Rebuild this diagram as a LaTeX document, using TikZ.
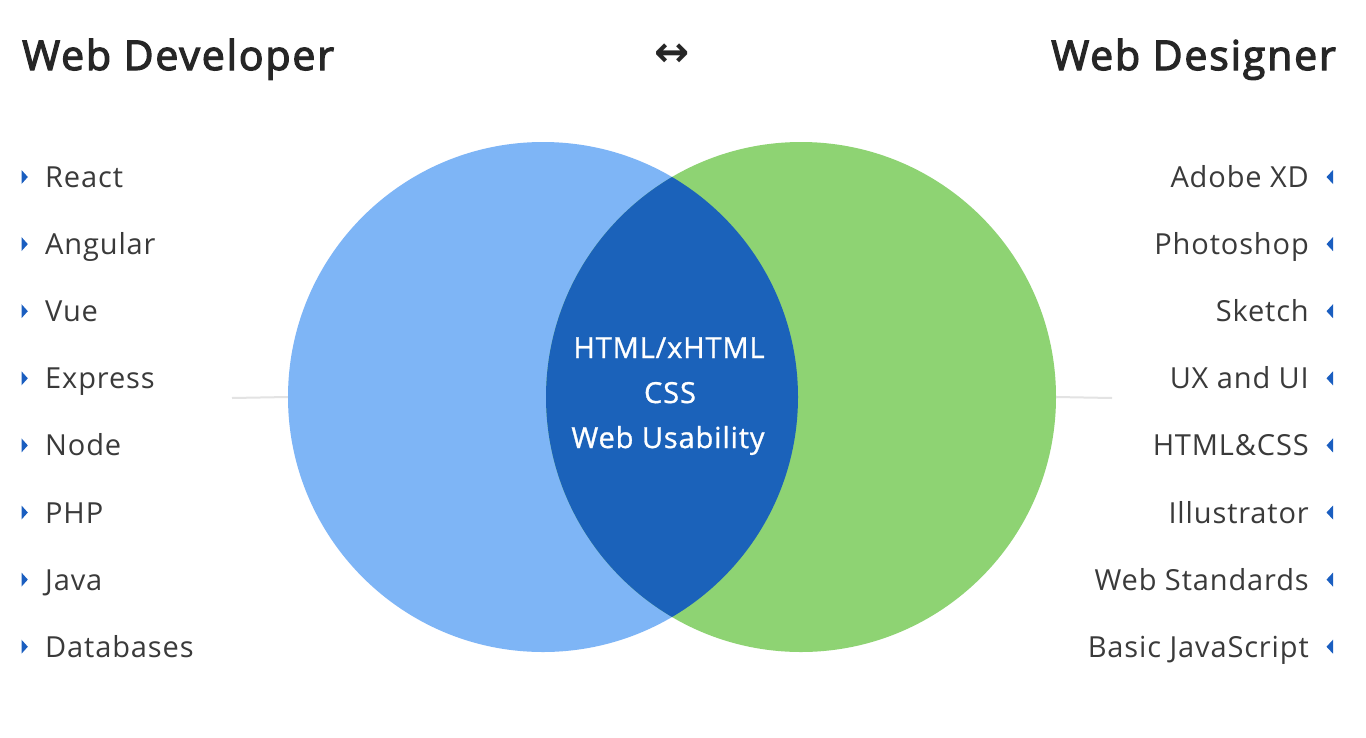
\documentclass[tikz,border=0pt]{standalone}
\usepackage{fontspec}
\setmainfont{Open Sans}
\newfontfamily\ttlfont{Open Sans}[FakeBold=3, LetterSpace=4.5]
\newfontfamily\itmfont{Open Sans}[LetterSpace=3]
\newfontfamily\ctrfont{Open Sans}[FakeBold=1, LetterSpace=3]
\newfontfamily\symf{DejaVu Sans}
\definecolor{lblue}{HTML}{7EB5F6}
\definecolor{lgreen}{HTML}{8ED373}
\definecolor{dblue}{HTML}{1B62BA}
\definecolor{bul}{HTML}{1A5EC0}
\definecolor{txt}{HTML}{3A3A3A}
\definecolor{ttl}{HTML}{262626}
\definecolor{gline}{HTML}{E3E3E3}
\begin{document}
\begin{tikzpicture}[x=1pt,y=-1pt,
  title/.style={font=\ttlfont\fontsize{41}{46}\selectfont, text=ttl, inner sep=0},
  item/.style={font=\itmfont\fontsize{29}{34}\selectfont, text=txt, inner sep=0},
  center/.style={font=\ctrfont\fontsize{29}{34}\selectfont, text=white, inner sep=0},
  bullet/.style={fill=bul},
  ring/.style={circle, minimum size=510pt, inner sep=0},
  guide/.style={draw=gline, line width=2pt}]
\useasboundingbox (0,0) rectangle (1366,737);
\fill[white] (0,0) rectangle (1366,737);

\node[title, anchor=base west] (tl) at (22,70) {Web Developer};
\node[title, anchor=base east] (tr) at (1336,70) {Web Designer};
\node[font=\symf\bfseries\fontsize{42}{46}\selectfont, text=ttl, inner sep=0] (arr) at (672,55) {↔};

\coordinate (gl) at (232,398);
\coordinate (gr) at (1112,398);
\node[ring, fill=lblue] (L) at (543,397) {};
\node[ring, fill=lgreen] (R) at (801,397) {};
\begin{scope}
  \clip (543,397) circle (255);
  \fill[dblue] (801,397) circle (255);
\end{scope}
\draw[guide] (gl) -- (L.west);
\draw[guide] (R.east) -- (gr);

\node[center, anchor=base] (c1) at (669,358) {HTML/xHTML};
\node[center, anchor=base] (c2) at (670,403) {CSS};
\node[center, anchor=base] (c3) at (668,448) {Web Usability};

\foreach \t [count=\i] in {React,Angular,Vue,Express,Node,PHP,Java,Databases}{
  \pgfmathsetmacro{\yy}{177+67.1*(\i-1)}
  \fill[bullet] (21.5,\yy-7) -- (27.8,\yy) -- (21.5,\yy+7) -- cycle;
  \node[item, anchor=base west] (l\i) at (45,\yy+10.5) {\t};
}
\foreach \t [count=\i] in {Adobe XD,Photoshop,Sketch,UX and UI,HTML\&CSS,Illustrator,Web Standards,Basic JavaScript}{
  \pgfmathsetmacro{\yy}{177+67.1*(\i-1)}
  \fill[bullet] (1333,\yy-7) -- (1326.5,\yy) -- (1333,\yy+7) -- cycle;
  \node[item, anchor=base east] (r\i) at (1309,\yy+10.5) {\t};
}
\end{tikzpicture}
\end{document}
